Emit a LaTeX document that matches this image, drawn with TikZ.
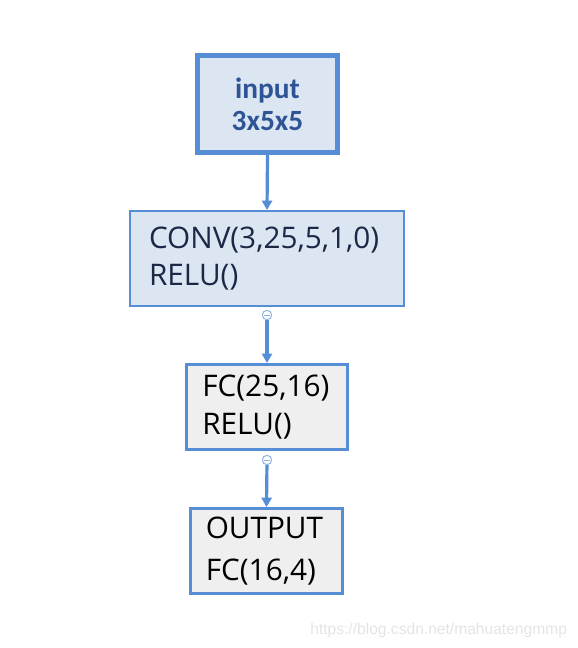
\documentclass[tikz,border=0pt]{standalone}
\usepackage{fontspec}
\setmainfont{Open Sans}
\newfontfamily\inputfont{Carlito}
\newfontfamily\markfont{Liberation Sans}
\usetikzlibrary{arrows.meta}

\tikzset{every picture/.style={line width=0.5pt}}

\begin{document}
\begin{tikzpicture}[x=0.75pt,y=0.75pt,yscale=-1,xscale=1,
    inbox/.style={draw={rgb, 255:red, 85; green, 142; blue, 213 },line width=3.75pt,fill={rgb, 255:red, 220; green, 230; blue, 242 },minimum width=105pt,minimum height=72.75pt,align=center,font=\inputfont\bfseries\fontsize{22}{24}\selectfont,text={rgb, 255:red, 46; green, 84; blue, 150 }},
    layerbox/.style={draw={rgb, 255:red, 85; green, 142; blue, 213 },align=left,font=\fontsize{22.3}{28}\selectfont},
    joint/.style={circle,draw={rgb, 255:red, 141; green, 180; blue, 226 },fill=white,line width=0.75pt,inner sep=0pt,minimum size=7pt,path picture={\draw [line width=0.6pt,color={rgb, 255:red, 141; green, 180; blue, 226 }] ([xshift=-2pt]path picture bounding box.center) -- ([xshift=2pt]path picture bounding box.center);}},
    flow/.style={color={rgb, 255:red, 85; green, 142; blue, 213 },line width=2.4pt,-{Triangle[length=7pt,width=7.5pt]}}]
    \useasboundingbox (0,0) rectangle (577,648);

    %Shape: Rectangle [id:input]
    \node [inbox] (input) at (267.5,104) {input\\3x5x5};
    %Shape: Rectangle [id:conv]
    \node [layerbox,line width=1.5pt,fill={rgb, 255:red, 220; green, 230; blue, 242 },minimum height=71.25pt,inner xsep=14.25pt,text width=177pt,text={rgb, 255:red, 28; green, 40; blue, 70 }] (conv) at (267,258.5) {CONV(3,25,5,1,0)\\RELU()};
    %Shape: Rectangle [id:fc]
    \node [layerbox,line width=2.25pt,fill={rgb, 255:red, 239; green, 239; blue, 239 },minimum height=63.75pt,inner xsep=11.9pt,text width=97pt] (fc) at (267,407) {FC(25,16)\\RELU()};
    %Shape: Rectangle [id:output]
    \node [layerbox,line width=2.25pt,fill={rgb, 255:red, 239; green, 239; blue, 239 },minimum height=63.75pt,inner xsep=11.5pt,text width=91pt,font=\fontsize{22.3}{31}\selectfont] (output) at (266.5,551) {OUTPUT\\FC(16,4)};

    %Shape: Circle [id:joints]
    \node [joint] (convout) at (267,315) {};
    \node [joint] (fcout) at (267,460) {};

    %Straight Lines [id:flows]
    \draw [flow] (input.south) -- (conv.north);
    \draw [flow] (convout) -- (fc.north);
    \draw [flow] (fcout) -- (output.north);

    % Text Node
    \node [anchor=west,inner sep=0.75pt,font=\markfont\fontsize{11.7}{12}\selectfont,text={rgb, 255:red, 228; green, 228; blue, 228 }] (mark) at (309,630) {https://blog.csdn.net/mahuatengmmp};
\end{tikzpicture}
\end{document}
